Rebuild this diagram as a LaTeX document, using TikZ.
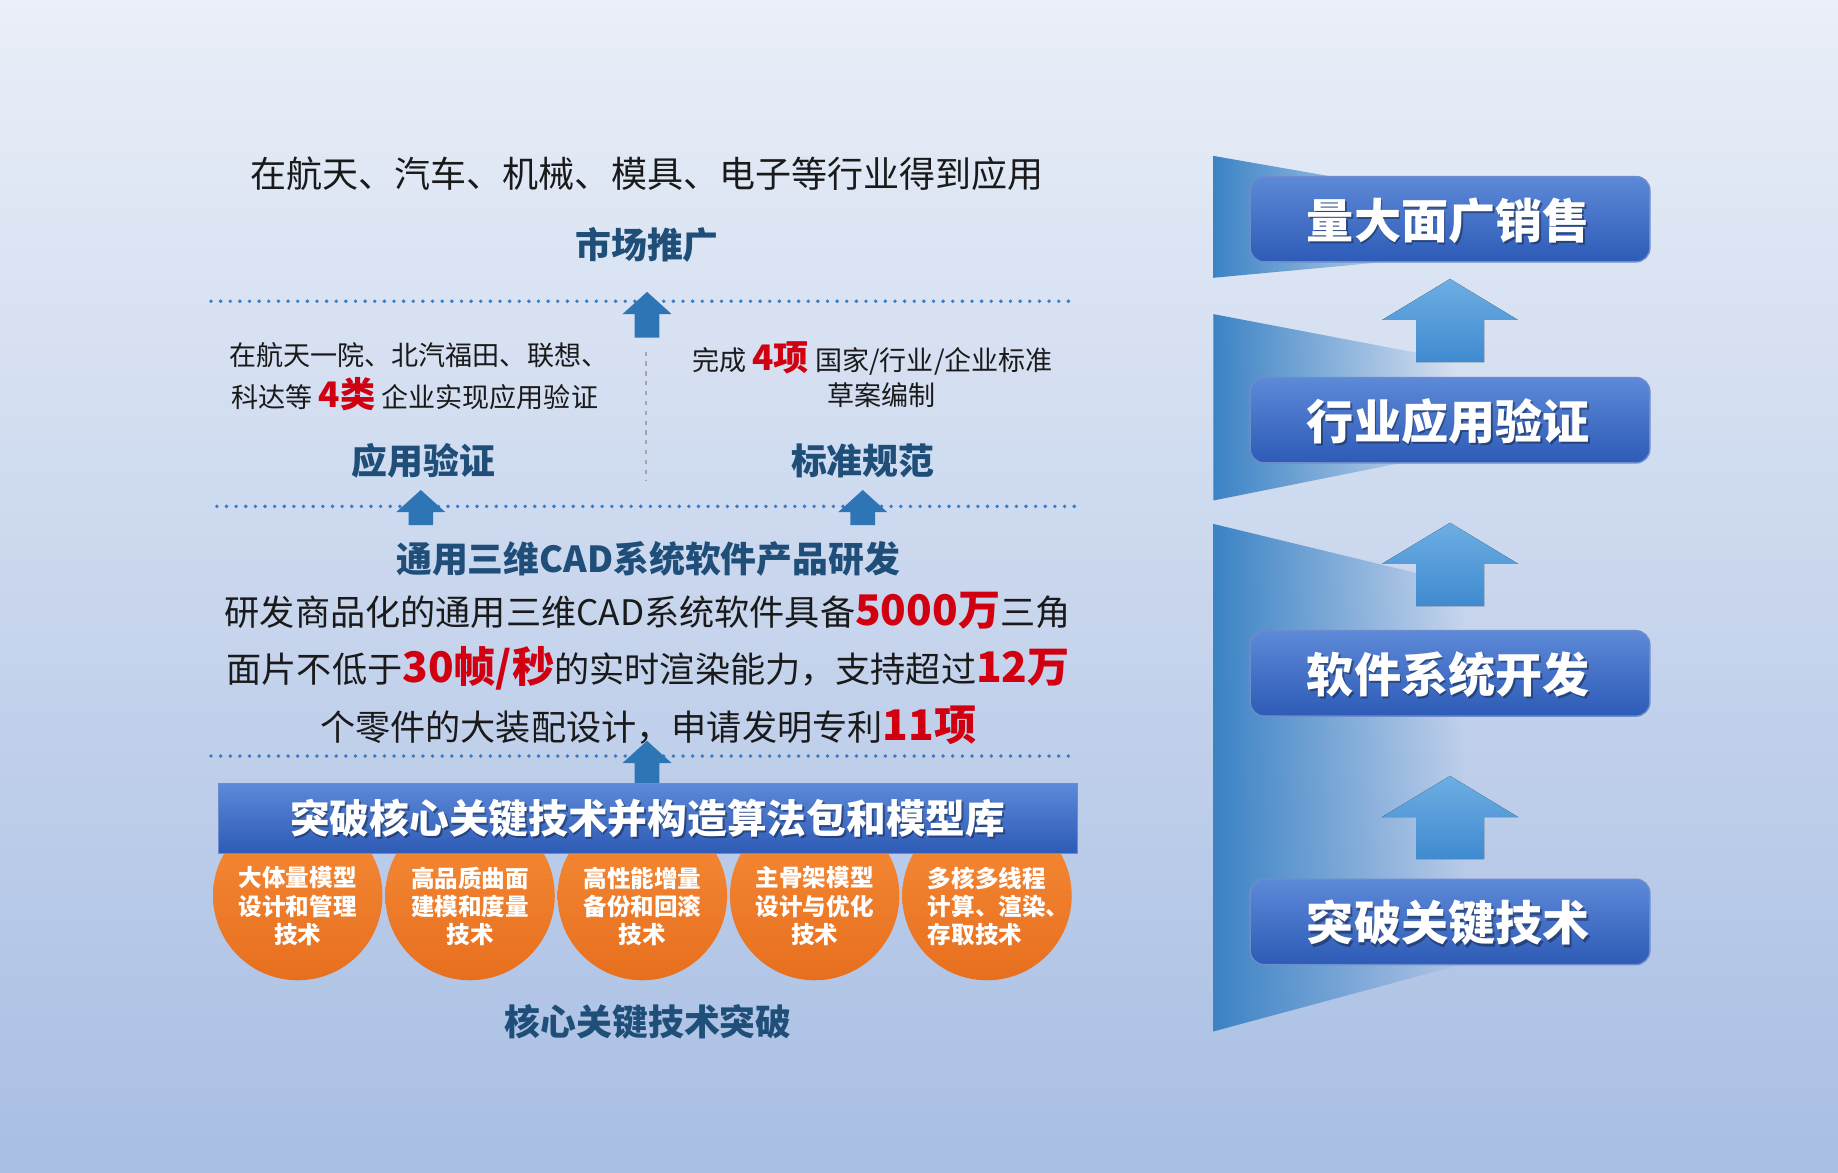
\documentclass[tikz,border=0pt]{standalone}
\usepackage{fontspec}
\setmainfont{Noto Sans CJK SC}
\usetikzlibrary{fadings}
\definecolor{txtblack}{HTML}{1A1A1A}
\definecolor{ttlblue}{HTML}{1F4E79}
\definecolor{arrblue}{HTML}{2E75B6}
\definecolor{dotblue}{HTML}{3A7BC4}
\definecolor{hired}{HTML}{D00010}
\definecolor{bgtop}{HTML}{EAEFF8}
\definecolor{bgbot}{HTML}{A8BEE3}
\definecolor{boxtop}{HTML}{5D89D8}
\definecolor{boxbot}{HTML}{2D5BB6}
\definecolor{orgtop}{HTML}{F68C38}
\definecolor{orgbot}{HTML}{E76F1E}
\definecolor{bigtop}{HTML}{6DAEE3}
\definecolor{bigbot}{HTML}{3F8AD0}
\definecolor{wedgeblue}{HTML}{3B83C5}
\newcommand\fsz[2]{\fontsize{#1}{#2}\selectfont}
\newcommand\hi[1]{{\fsz{12}{14}\bfseries\color{hired}#1}}
\newcommand\hismall[1]{{\fsz{10}{12}\bfseries\color{hired}#1}}
\newcommand\bigarrow[2]{%
  \fill[top color=bigtop,bottom color=bigbot] (#1,#2) -- ++(58,35) -- ++(-29,0) -- ++(0,36) -- ++(-58,0) -- ++(0,-36) -- ++(-29,0) -- cycle;}
\newcommand\smallarrow[3]{%
  \fill[arrblue] (#1,#2) -- (#1+21,#2+19) -- (#1+10.5,#2+19) -- (#1+10.5,#3) -- (#1-10.5,#3) -- (#1-10.5,#2+19) -- (#1-21,#2+19) -- cycle;}
\begin{document}
\begin{tikzpicture}[x=0.011722cm,y=-0.011722cm,
  dotline/.style={draw=dotblue,line width=1.1pt,line cap=round,dash pattern=on 0pt off 2.74pt},
  graydot/.style={draw=gray!70,line width=0.7pt,dash pattern=on 1.2pt off 1.6pt},
  body/.style={font=\fsz{10}{12},text=txtblack,inner sep=0pt},
  small/.style={font=\fsz{7.7}{9},text=txtblack,inner sep=0pt},
  ttl/.style={font=\fsz{10.2}{12}\bfseries,text=ttlblue,inner sep=0pt},
  rbox/.style={rectangle,rounded corners=4pt,minimum width=113.7pt,minimum height=24.3pt,
    top color=boxtop,bottom color=boxbot,draw=boxbot!70!white,line width=0.4pt,inner sep=0pt},
  rtxt/.style={font=\fsz{13.4}{15}\bfseries,text=white,inner sep=0pt},
  rshadow/.style={font=\fsz{13.4}{15}\bfseries,text=black,text opacity=0.35,inner sep=0pt},
  orb/.style={circle,minimum size=48.2pt,inner sep=0pt,top color=orgtop,bottom color=orgbot},
  orbtxt/.style={font=\fsz{6.7}{8}\bfseries,text=white,align=center,inner sep=0pt},
  barbox/.style={rectangle,minimum width=244.3pt,minimum height=19.9pt,inner sep=0pt,
    top color=boxtop,bottom color=boxbot,draw=boxbot!70!white,line width=0.3pt},
  bartxt/.style={font=\fsz{11.3}{13}\bfseries,text=white,inner sep=0pt},
  barshadow/.style={font=\fsz{11.3}{13}\bfseries,text=black,text opacity=0.35,inner sep=0pt}]
% background
\fill[top color=bgtop,bottom color=bgbot] (0,0) rectangle (1568,1000);
\useasboundingbox (0,0) rectangle (1568,1000);

% ---------- right column ----------
\fill[wedgeblue,path fading=east] (1035,133) -- (1230,167) -- (1230,219) -- (1035,237) -- cycle;
\fill[wedgeblue,path fading=east] (1035,268) -- (1240,307) -- (1240,386) -- (1035,427) -- cycle;
\fill[wedgeblue,path fading=east] (1035,447) -- (1250,499) -- (1250,822) -- (1035,880) -- cycle;

\bigarrow{1237}{238}
\bigarrow{1237}{446}
\bigarrow{1237}{662}

\node[rbox] (b1) at (1237,187) {};
\node[rbox] (b2) at (1237,358.5) {};
\node[rbox] (b3) at (1237,574.5) {};
\node[rbox] (b4) at (1237,786.5) {};
\node[rshadow] (s1) at (1237,190) {量大面广销售};
\node[rshadow] (s2) at (1237,361.5) {行业应用验证};
\node[rshadow] (s3) at (1237,577.5) {软件系统开发};
\node[rshadow] (s4) at (1237,789.5) {突破关键技术};
\node[rtxt] (t1) at (1235.5,188) {量大面广销售};
\node[rtxt] (t2) at (1235.5,359.5) {行业应用验证};
\node[rtxt] (t3) at (1235.5,575.5) {软件系统开发};
\node[rtxt] (t4) at (1235.5,787.5) {突破关键技术};

% ---------- left column ----------
\node[font=\fsz{10.25}{12},text=txtblack,inner sep=0pt] (apply) at (552,148) {在航天、汽车、机械、模具、电子等行业得到应用};
\node[ttl] (mkt) at (552,209) {市场推广};

\draw[dotline] (180,257) -- (915,257);
\draw[dotline] (185,432) -- (920,432);
\draw[dotline] (180,645) -- (915,645);
\draw[graydot] (551,300) -- (551,410);

\smallarrow{552}{249}{288}
\smallarrow{359}{418}{448}
\smallarrow{736}{418}{448}
\smallarrow{552}{632}{668}

\node[small,anchor=west] (l1) at (195,303) {在航天一院、北汽福田、联想、};
\node[small,anchor=west] (l2) at (197,336) {科达等 \hismall{4类} 企业实现应用验证};
\node[small,anchor=west] (r1) at (590,306) {完成 \hismall{4项} 国家/行业/企业标准};
\node[small,anchor=west] (r2) at (705,337) {草案编制};

\node[ttl] (valid) at (361,393) {应用验证};
\node[ttl] (std) at (736,393) {标准规范};

\node[ttl] (prod) at (553,477) {通用三维CAD系统软件产品研发};
\node[body] (p1) at (552.5,521) {研发商品化的通用三维CAD系统软件具备\hi{5000万}三角};
\node[body] (p2) at (553,570) {面片不低于\hi{30帧/秒}的实时渲染能力，支持超过\hi{12万}};
\node[body] (p3) at (553,619) {个零件的大装配设计，申请发明专利\hi{11项}};

% orange circles
\node[orb] (c1) at (254,764) {};
\node[orb] (c2) at (401,764) {};
\node[orb] (c3) at (548,764) {};
\node[orb] (c4) at (695,764) {};
\node[orb] (c5) at (842,764) {};
\node[orbtxt] (ct1) at (254,773) {大体量模型\\设计和管理\\技术};
\node[orbtxt] (ct2) at (401,773) {高品质曲面\\建模和度量\\技术};
\node[orbtxt] (ct3) at (548,773) {高性能增量\\备份和回滚\\技术};
\node[orbtxt] (ct4) at (695,773) {主骨架模型\\设计与优化\\技术};
\node[orbtxt,align=left,anchor=west] (ct5) at (791,773) {多核多线程\\计算、渲染、\\存取技术};

% blue bar
\node[barbox] (bar) at (552.5,698) {};
\node[barshadow] (barsh) at (554,700) {突破核心关键技术并构造算法包和模型库};
\node[bartxt] (bartext) at (552.5,698.5) {突破核心关键技术并构造算法包和模型库};

\node[ttl] (core) at (553,872) {核心关键技术突破};
\end{tikzpicture}
\end{document}
